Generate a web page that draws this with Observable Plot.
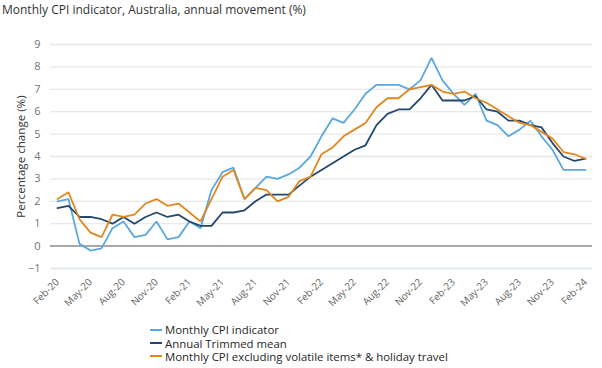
<!DOCTYPE html>
<html>
<head>
<meta charset="utf-8">
<script src="https://cdn.jsdelivr.net/npm/d3@7"></script>
<script src="https://cdn.jsdelivr.net/npm/@observablehq/plot@0.6"></script>
<style>
  html, body { margin: 0; padding: 0; background: #fff; }
  #wrap { position: relative; width: 602px; height: 368px; font-family: "Open Sans", sans-serif; overflow: hidden; }
  #title { position: absolute; left: 2px; top: 1px; font-size: 12px; line-height: 17px; color: #333; white-space: nowrap; }
  #chart { position: absolute; left: 0; top: 24px; }
  #legend { position: absolute; left: 150px; top: 323px; font-size: 11.4px; line-height: 13.4px; color: #262626; }
  .row { display: flex; align-items: center; height: 13.4px; white-space: nowrap; }
  .sw { display: inline-block; width: 12px; height: 2px; margin-right: 3px; }
  .txt { display: inline-block; height: 13px; line-height: 13px; overflow: visible; }
</style>
</head>
<body>
<div id="wrap">
  <div id="title">Monthly CPI indicator, Australia, annual movement (%)</div>
  <div id="chart"></div>
  <div id="legend"></div>
</div>
<script>
// ---- Data ----
const startMonth = new Date(Date.UTC(2020, 1, 1));
const months = d3.utcMonth.range(startMonth, new Date(Date.UTC(2024, 2, 1))).map(d3.utcFormat("%b-%y"));

const tickLabels = ["Feb-20","May-20","Aug-20","Nov-20","Feb-21","May-21","Aug-21","Nov-21",
  "Feb-22","May-22","Aug-22","Nov-22","Feb-23","May-23","Aug-23","Nov-23","Feb-24"];

const yTicks = [-1, 0, 1, 2, 3, 4, 5, 6, 7, 8, 9];

const seriesNames = ["Monthly CPI indicator", "Annual Trimmed mean",
  "Monthly CPI excluding volatile items* & holiday travel"];
const seriesColors = ["#5aa8de", "#23476d", "#e2871e"];

const monthlyCPI = [2.0, 2.1, 0.1, -0.2, -0.1, 0.8, 1.1, 0.4, 0.5, 1.1, 0.3, 0.4,
  1.1, 0.8, 2.5, 3.3, 3.5, 2.1, 2.6, 3.1, 3.0, 3.2, 3.5, 4.0,
  4.9, 5.7, 5.5, 6.1, 6.8, 7.2, 7.2, 7.2, 7.0, 7.4, 8.4, 7.4,
  6.8, 6.3, 6.8, 5.6, 5.4, 4.9, 5.2, 5.6, 4.9, 4.3, 3.4, 3.4, 3.4];

const trimmedMean = [1.7, 1.8, 1.3, 1.3, 1.2, 1.0, 1.3, 1.0, 1.3, 1.5, 1.3, 1.4,
  1.1, 0.9, 0.9, 1.5, 1.5, 1.6, 2.0, 2.3, 2.3, 2.3, 2.7, 3.1,
  3.4, 3.7, 4.0, 4.3, 4.5, 5.4, 5.9, 6.1, 6.1, 6.6, 7.2, 6.5,
  6.5, 6.5, 6.7, 6.1, 6.0, 5.6, 5.6, 5.4, 5.3, 4.6, 4.0, 3.8, 3.9];

const exVolatile = [2.1, 2.4, 1.2, 0.6, 0.4, 1.4, 1.3, 1.4, 1.9, 2.1, 1.8, 1.9,
  1.5, 1.1, 2.1, 3.1, 3.4, 2.1, 2.6, 2.5, 2.0, 2.2, 2.9, 3.1,
  4.1, 4.4, 4.9, 5.2, 5.5, 6.2, 6.6, 6.6, 7.0, 7.1, 7.2, 6.9,
  6.8, 6.9, 6.6, 6.4, 6.1, 5.8, 5.5, 5.4, 5.1, 4.8, 4.2, 4.1, 3.9];

const seriesValues = [monthlyCPI, trimmedMean, exVolatile];

// ---- Build ----
const rows = seriesValues.map(vals => vals.map((v, i) => ({month: months[i], value: v})));

const chart = Plot.plot({
  width: 602,
  height: 290,
  marginTop: 20,
  marginBottom: 46,
  marginLeft: 50,
  marginRight: 10,
  style: { fontFamily: "Open Sans, sans-serif", background: "#fff" },
  x: { type: "point", domain: months, padding: 0.5 },
  y: { domain: [-1, 9] },
  marks: [
    Plot.ruleY(yTicks.filter(d => d > 0), { stroke: "#e8e8e8", strokeWidth: 1.3 }),
    Plot.ruleY([-1], { stroke: "#dbe4ef", strokeWidth: 1.3 }),
    Plot.ruleY([0], { stroke: "#a8a8a8", strokeWidth: 2 }),
    ...rows.map((data, k) => Plot.lineY(data, {
      x: "month", y: "value", stroke: seriesColors[k], strokeWidth: 1.8, strokeLinejoin: "miter"
    })),
    Plot.axisY({
      ticks: yTicks, tickSize: 0, tickPadding: 10, fontSize: 11, fill: "#737373",
      label: "Percentage change (%)", labelAnchor: "center", labelArrow: "none", labelOffset: 34
    }),
    Plot.axisX({
      ticks: tickLabels, tickSize: 0, tickPadding: 12, tickRotate: -45, fontSize: 10,
      fill: "#666666", label: null
    })
  ]
});
// style y axis label
d3.select(chart).selectAll("[aria-label='y-axis label'] text").attr("fill", "#333").style("font-size", "11.6px");
document.getElementById("chart").appendChild(chart);

const legend = d3.select("#legend");
seriesNames.forEach((name, k) => {
  const r = legend.append("div").attr("class", "row");
  r.append("span").attr("class", "sw").style("background", seriesColors[k]);
  r.append("span").attr("class", "txt").text(name);
});
</script>
</body>
</html>
